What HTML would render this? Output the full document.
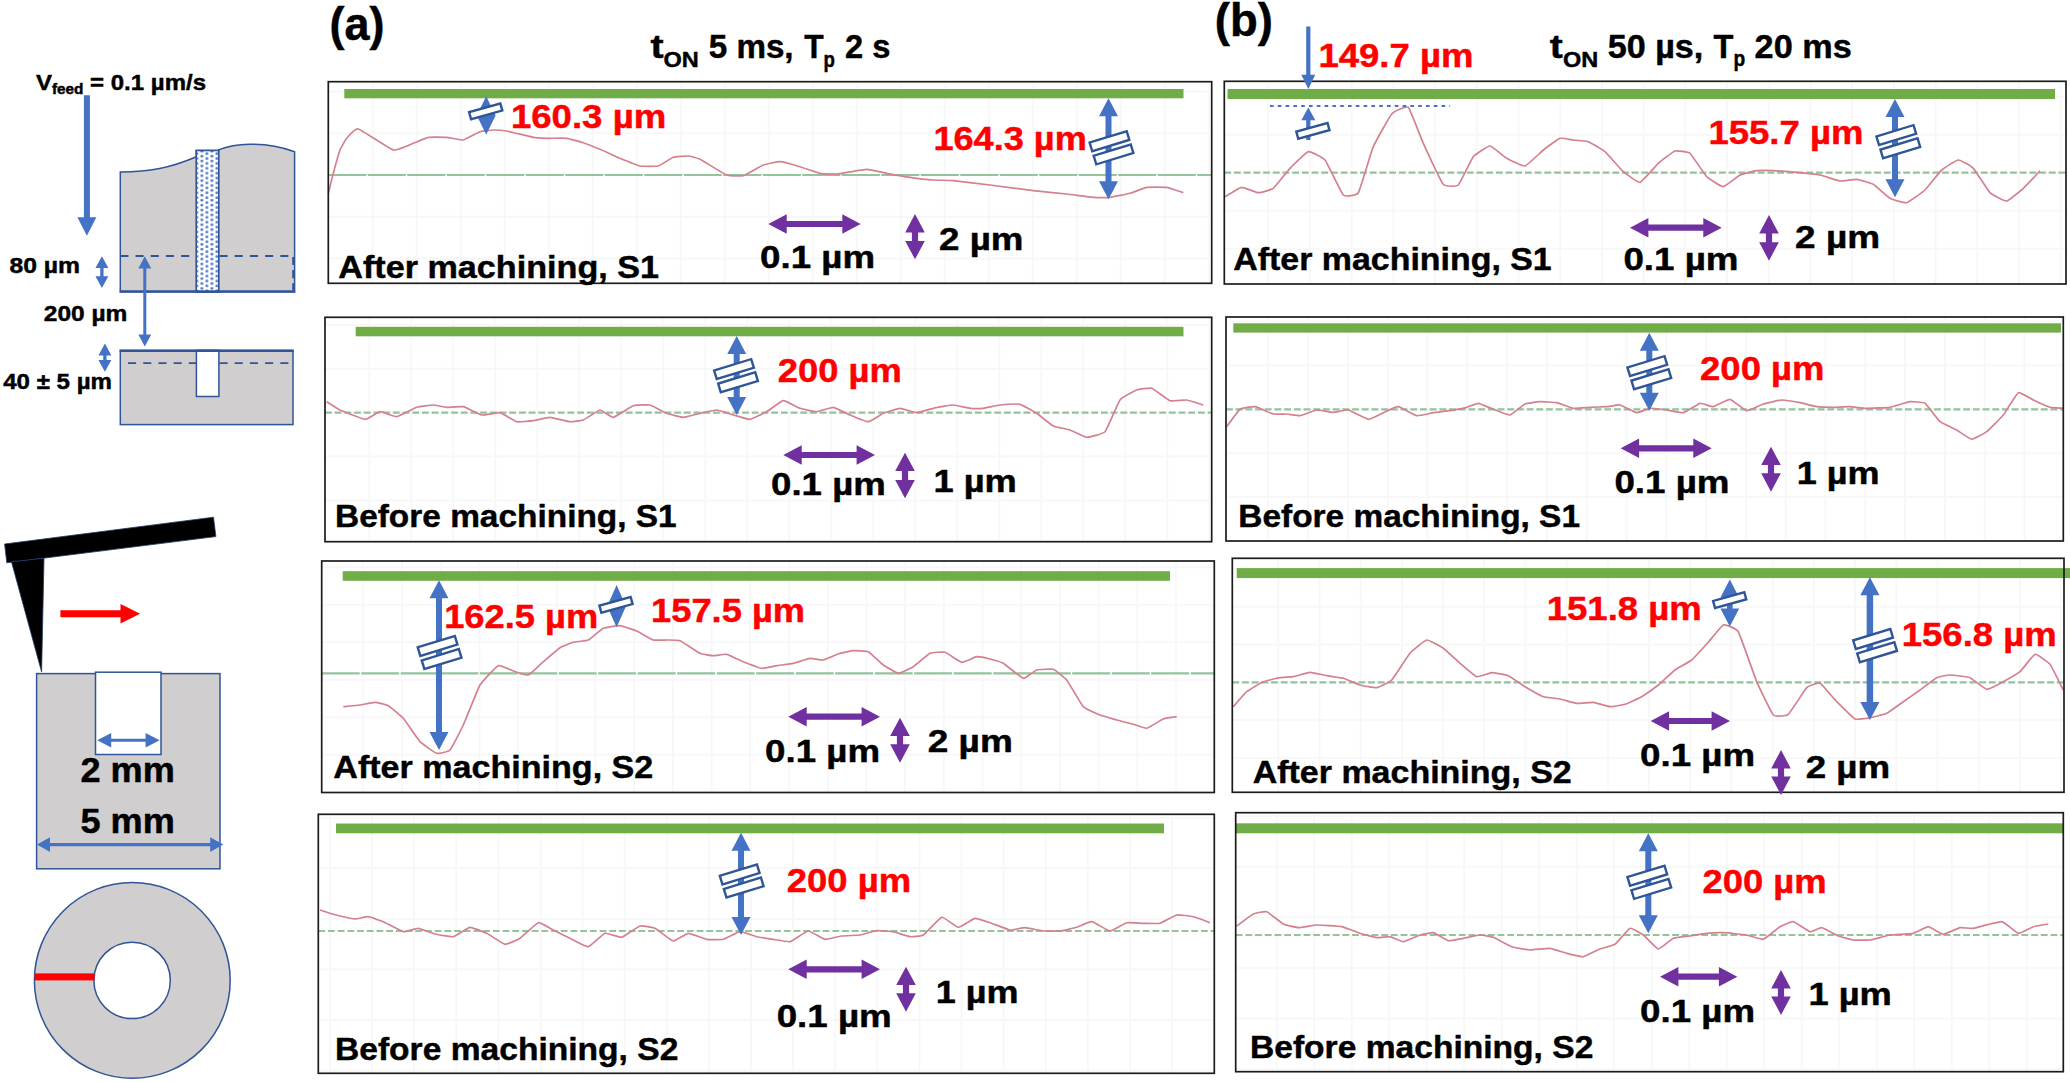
<!DOCTYPE html>
<html lang="en"><head><meta charset="utf-8"><title>Figure</title>
<style>
html,body{margin:0;padding:0;background:#fff;}
svg{display:block;}
svg text{font-family:"Liberation Sans",sans-serif;font-weight:bold;stroke-width:0.45px;stroke-linejoin:round;}
</style></head><body>
<svg width="2070" height="1082" viewBox="0 0 2070 1082">
<defs><pattern id="dots" x="199.4" y="154.88" width="10" height="4.9" patternUnits="userSpaceOnUse"><rect width="10" height="4.9" fill="#fff"/><circle cx="2.5" cy="1.225" r="1.35" fill="#4472c4"/><circle cx="7.5" cy="3.675" r="1.35" fill="#4472c4"/></pattern></defs>
<rect width="2070" height="1082" fill="#fff"/>
<g>
<path d="M372.7 81.7V283.3M416.7 81.7V283.3M460.7 81.7V283.3M504.7 81.7V283.3M548.7 81.7V283.3M592.7 81.7V283.3M636.7 81.7V283.3M680.7 81.7V283.3M724.7 81.7V283.3M768.7 81.7V283.3M812.7 81.7V283.3M856.7 81.7V283.3M900.7 81.7V283.3M944.7 81.7V283.3M988.7 81.7V283.3M1032.7 81.7V283.3M1076.7 81.7V283.3M1120.7 81.7V283.3M1164.7 81.7V283.3M1208.7 81.7V283.3M328.3 91.6H1211.7M328.3 133.3H1211.7M328.3 175H1211.7M328.3 216.7H1211.7M328.3 258.4H1211.7" stroke="#f8f8f8" stroke-width="2" fill="none"/>
<line x1="328.3" y1="175" x2="1211.7" y2="175" stroke="#93c49a" stroke-width="2.2" stroke-dasharray="38 1.5"/>
</g>
<path fill="none" stroke="#d4808f" stroke-width="1.7" stroke-linejoin="round" d="M328.3 193.3C328.6 192.1 332.6 175.9 333.3 173.3C334 170.7 339.2 152.1 340 150C340.8 147.9 345.6 139.6 346.7 138.3C347.8 137 355.5 128.3 358.3 129C361.1 129.7 390 149.1 393.3 150C396.6 150.9 411.2 144.1 413.3 143.3C415.4 142.5 426.3 137.7 428.3 137.3C430.3 136.9 444.6 137.1 446.7 137.3C448.8 137.5 461.3 140.3 463.3 140C465.3 139.7 478.2 132.3 480 131.7C481.8 131.1 491.7 130 493.3 130C494.9 130 504.3 130.6 506.7 131C509.1 131.4 530.9 136.9 533.3 137.3C535.7 137.7 544.7 138.2 546.7 138.3C548.7 138.4 564.5 138 566.7 138.3C568.9 138.6 581.3 142 583.3 142.7C585.3 143.4 597.8 148.4 600 149.3C602.2 150.2 617.6 157.3 620 158.3C622.4 159.3 637.7 165.5 640 166C642.3 166.5 656.3 166.5 658.3 166C660.3 165.5 671.5 157.9 673.3 157.3C675.1 156.7 686.7 155.9 688.3 156C689.9 156.1 697.7 158.2 700 159.3C702.3 160.4 724.1 174 726.7 175C729.3 176 741.1 176.3 743.3 175.7C745.5 175.1 761.1 165.8 763.3 165C765.5 164.2 777.8 161.6 780 161.7C782.2 161.8 797.6 166 800 166.7C802.4 167.4 817.8 172.9 820 173.3C822.2 173.7 833.9 174.2 836.7 174C839.5 173.8 863.7 169.3 866.7 169.3C869.7 169.3 884.1 172.8 886.7 173.3C889.3 173.8 907.2 176.9 910 177.3C912.8 177.7 930.7 179.8 933.3 180C935.9 180.2 949.9 180.4 953.3 180.7C956.7 181 985.2 184.4 990 185C994.8 185.6 1028.7 190.2 1033.3 190.7C1037.9 191.2 1063.1 193.6 1066.7 194C1070.3 194.4 1090.7 197.1 1093.3 197.3C1095.9 197.5 1107.8 197.5 1110 197.3C1112.2 197.1 1127.8 193.9 1130 193.3C1132.2 192.7 1144.5 187.7 1146.7 187.3C1148.9 186.9 1164.5 187 1166.7 187.3C1168.9 187.6 1182.3 192.4 1183.3 192.7"/>
<rect x="344.3" y="89" width="839.2" height="9.3" fill="#70ad47"/>
<rect x="328.3" y="81.7" width="883.4" height="201.6" fill="none" stroke="#1c1c1c" stroke-width="1.7"/>
<g>
<path d="M1268.3 81.3V284M1310 81.3V284M1351.7 81.3V284M1393.4 81.3V284M1435.1 81.3V284M1476.8 81.3V284M1518.5 81.3V284M1560.2 81.3V284M1601.9 81.3V284M1643.6 81.3V284M1685.3 81.3V284M1727 81.3V284M1768.7 81.3V284M1810.4 81.3V284M1852.1 81.3V284M1893.8 81.3V284M1935.5 81.3V284M1977.2 81.3V284M2018.9 81.3V284M2060.6 81.3V284M1224.3 96.7H2066M1224.3 134.7H2066M1224.3 172.7H2066M1224.3 210.7H2066M1224.3 248.7H2066" stroke="#f8f8f8" stroke-width="2" fill="none"/>
<line x1="1224.3" y1="172.7" x2="2066" y2="172.7" stroke="#93c49a" stroke-width="2.2" stroke-dasharray="6.8 2.9"/>
</g>
<path fill="none" stroke="#d4808f" stroke-width="1.7" stroke-linejoin="round" d="M1225 196.7C1226 196.1 1239.7 187.5 1241.7 187.3C1243.7 187.1 1256.4 192.6 1258.3 192.7C1260.2 192.8 1271.4 189.8 1273.3 188.3C1275.2 186.8 1287.9 170.5 1290 168.3C1292.1 166.1 1306.2 152.2 1308.3 151.7C1310.4 151.2 1322.9 157.4 1325 160C1327.1 162.6 1341.3 193 1343.3 195C1345.3 197 1356.5 195.6 1358.3 192.7C1360.1 189.8 1371.3 151.4 1373.3 146.7C1375.3 142 1389.6 116.4 1391.7 114C1393.8 111.6 1406.4 105.5 1408.3 107.3C1410.2 109.1 1421.2 138.7 1423.3 143.3C1425.4 147.9 1441.2 181.8 1443.3 184.3C1445.4 186.8 1456.5 186.7 1458.3 185C1460.1 183.3 1471.4 159 1473.3 156.7C1475.2 154.4 1488 145.9 1490 146C1492 146.1 1504.6 157.1 1506.7 158.3C1508.8 159.5 1522.8 166.5 1525 166C1527.2 165.5 1541.2 151.7 1543.3 150C1545.4 148.3 1558.2 138.9 1560 138.3C1561.8 137.7 1571.6 139.8 1573.3 140C1575 140.2 1586.4 141 1588.3 141.7C1590.2 142.4 1602.9 149.9 1605 151.7C1607.1 153.5 1621.2 169.9 1623.3 171.7C1625.4 173.5 1637.9 182.8 1640 182.3C1642.1 181.8 1656.2 165.2 1658.3 163.3C1660.4 161.4 1673.1 151.6 1675 151C1676.9 150.4 1688.1 151.8 1690 153.3C1691.9 154.8 1704.7 174.7 1706.7 176.7C1708.7 178.7 1721.3 186.8 1723.3 186.7C1725.3 186.6 1738 176 1740 175C1742 174 1754.7 171 1756.7 170.7C1758.7 170.4 1770.7 170.6 1773.3 170.7C1775.9 170.8 1797.2 172.4 1800 172.7C1802.8 173 1817.6 174.5 1820 175C1822.4 175.5 1837.8 180.7 1840 181C1842.2 181.3 1854.7 179.1 1856.7 179.3C1858.7 179.5 1871.3 183.2 1873.3 184.3C1875.3 185.4 1888 197.2 1890 198.3C1892 199.4 1904.6 203.2 1906.7 202.7C1908.8 202.2 1922.9 192 1925 190C1927.1 188 1939.7 171.8 1941.7 170C1943.7 168.2 1956.4 160.1 1958.3 160C1960.2 159.9 1971.4 166.3 1973.3 168.3C1975.2 170.3 1988 190.7 1990 192.7C1992 194.7 2004.7 201.3 2006.7 201C2008.7 200.7 2021.3 190.1 2023.3 188.3C2025.3 186.5 2039 171.8 2040 170.7"/>
<rect x="1227.5" y="89" width="827.5" height="10" fill="#70ad47"/>
<rect x="1224.3" y="81.3" width="841.7" height="202.7" fill="none" stroke="#1c1c1c" stroke-width="1.7"/>
<g>
<path d="M369.3 317.3V541.7M411.3 317.3V541.7M453.3 317.3V541.7M495.3 317.3V541.7M537.3 317.3V541.7M579.3 317.3V541.7M621.3 317.3V541.7M663.3 317.3V541.7M705.3 317.3V541.7M747.3 317.3V541.7M789.3 317.3V541.7M831.3 317.3V541.7M873.3 317.3V541.7M915.3 317.3V541.7M957.3 317.3V541.7M999.3 317.3V541.7M1041.3 317.3V541.7M1083.3 317.3V541.7M1125.3 317.3V541.7M1167.3 317.3V541.7M1209.3 317.3V541.7M325 324.9H1211.7M325 368.8H1211.7M325 412.7H1211.7M325 456.6H1211.7M325 500.5H1211.7" stroke="#f8f8f8" stroke-width="2" fill="none"/>
<line x1="325" y1="412.7" x2="1211.7" y2="412.7" stroke="#93c49a" stroke-width="2.2" stroke-dasharray="6.8 2.9"/>
</g>
<path fill="none" stroke="#d4808f" stroke-width="1.7" stroke-linejoin="round" d="M326.7 401.7C327.5 402.2 337.7 408.9 340 410C342.3 411.1 362.6 419.2 365 419.3C367.4 419.4 378.1 411.9 380 411.7C381.9 411.5 394.5 417 396.7 416.7C398.9 416.4 414.5 408 416.7 407.3C418.9 406.6 431.5 405 433.3 405C435.1 405 444.9 407.2 446.7 407.3C448.5 407.4 461.2 406.2 463.3 406.7C465.4 407.2 479.5 414.6 481.7 415C483.9 415.4 497.9 412.3 500 412.7C502.1 413.1 514.7 421.2 516.7 421.7C518.7 422.2 531.3 421 533.3 420.7C535.3 420.4 547.8 417.2 550 417.3C552.2 417.4 568 421.5 570 421.7C572 421.9 581.5 420.7 583.3 420C585.1 419.3 598.2 410.2 600 410C601.8 409.8 611.3 417.6 613.3 417.3C615.3 417 631.1 406.4 633.3 405.7C635.5 405 648 404.5 650 405C652 405.5 664.7 412.6 666.7 413.3C668.7 414 681.3 417.3 683.3 417.3C685.3 417.3 698 413.7 700 413.3C702 412.9 714.7 409.9 716.7 410C718.7 410.1 731.3 414.4 733.3 415C735.3 415.6 748 419.5 750 419.3C752 419.1 764.7 412.8 766.7 411.7C768.7 410.6 781.3 400.9 783.3 400.7C785.3 400.5 798 407.6 800 408.3C802 409 814.7 411.8 816.7 411.7C818.7 411.6 831.3 407.1 833.3 407.3C835.3 407.5 847.9 414.1 850 415C852.1 415.9 866.3 421.8 868.3 421.7C870.3 421.6 881.4 414.1 883.3 413.3C885.2 412.5 898 408.3 900 408.3C902 408.3 914.7 412.7 916.7 412.7C918.7 412.7 931.1 408.8 933.3 408.3C935.5 407.8 951.1 405 953.3 405C955.5 405 968.2 408.1 970 408.3C971.8 408.5 981.5 408.5 983.3 408.3C985.1 408.1 997.8 405.2 1000 405C1002.2 404.8 1017.8 403.8 1020 404.3C1022.2 404.8 1034.7 412 1036.7 413.3C1038.7 414.6 1051.3 425 1053.3 426C1055.3 427 1068 429.3 1070 430C1072 430.7 1084.6 437.2 1086.7 437.3C1088.8 437.4 1103 433.9 1105 431.7C1107 429.5 1118.1 402.5 1120 400C1121.9 397.5 1134.8 390.7 1136.7 390C1138.6 389.3 1149.7 387.7 1151.7 388.3C1153.7 388.9 1167.9 400 1170 400.7C1172.1 401.4 1184.7 399.7 1186.7 400C1188.7 400.3 1202.3 404.7 1203.3 405"/>
<rect x="355.7" y="326.8" width="827.8" height="9.5" fill="#70ad47"/>
<rect x="325" y="317.3" width="886.7" height="224.4" fill="none" stroke="#1c1c1c" stroke-width="1.7"/>
<g>
<path d="M1268.3 317V541M1308.1 317V541M1347.9 317V541M1387.7 317V541M1427.5 317V541M1467.3 317V541M1507.1 317V541M1546.9 317V541M1586.7 317V541M1626.5 317V541M1666.3 317V541M1706.1 317V541M1745.9 317V541M1785.7 317V541M1825.5 317V541M1865.3 317V541M1905.1 317V541M1944.9 317V541M1984.7 317V541M2024.5 317V541M1226 321.5H2063.3M1226 365.4H2063.3M1226 409.3H2063.3M1226 453.2H2063.3M1226 497.1H2063.3" stroke="#f8f8f8" stroke-width="2" fill="none"/>
<line x1="1226" y1="409.3" x2="2063.3" y2="409.3" stroke="#93c49a" stroke-width="2.2" stroke-dasharray="6.8 2.9"/>
</g>
<path fill="none" stroke="#d4808f" stroke-width="1.7" stroke-linejoin="round" d="M1226.7 426.7C1227.5 425.7 1238.3 410.5 1240 409.3C1241.7 408.1 1253 406.4 1255 406.7C1257 407 1271.4 413.6 1273.3 414C1275.2 414.4 1285.1 413.9 1286.7 414C1288.3 414.1 1298.2 415.9 1300 415.7C1301.8 415.5 1314.7 410.2 1316.7 410C1318.7 409.8 1331.4 412.3 1333.3 412.3C1335.2 412.3 1346.2 409.6 1348.3 410C1350.4 410.4 1366.2 419.1 1368.3 419.3C1370.4 419.5 1381.5 413.5 1383.3 412.7C1385.1 411.9 1396.3 406.5 1398.3 406.7C1400.3 406.9 1414.6 415.3 1416.7 415.7C1418.8 416.1 1431.3 413 1433.3 412.7C1435.3 412.4 1448 411 1450 410.7C1452 410.4 1465 407.7 1466.7 407.3C1468.4 406.9 1476.7 403.2 1478.3 403.3C1479.9 403.4 1491.4 408.6 1493.3 409.3C1495.2 410 1508.1 415.3 1510 415C1511.9 414.7 1523.2 404.8 1525 404C1526.8 403.2 1538.1 401.8 1540 401.7C1541.9 401.6 1554.7 402.3 1556.7 402.7C1558.7 403.1 1571.3 408 1573.3 408.3C1575.3 408.6 1588 407.4 1590 407.3C1592 407.2 1604.9 406.8 1606.7 406.7C1608.5 406.6 1618.2 404.6 1620 405C1621.8 405.4 1634.9 412.5 1636.7 412.7C1638.5 412.9 1648.2 408.5 1650 408.3C1651.8 408.1 1664.7 409.7 1666.7 410C1668.7 410.3 1681.3 413.1 1683.3 412.7C1685.3 412.3 1698.2 403.7 1700 403.3C1701.8 402.9 1711.5 406.9 1713.3 406.7C1715.1 406.5 1728 399.1 1730 399.3C1732 399.5 1744.7 410.4 1746.7 410.7C1748.7 411 1761.2 404.6 1763.3 404C1765.4 403.4 1779.5 400.1 1781.7 400C1783.9 399.9 1797.9 402.3 1800 402.7C1802.1 403.1 1814.7 406.4 1816.7 406.7C1818.7 407 1831.3 407.3 1833.3 407.3C1835.3 407.3 1848 406.6 1850 406.7C1852 406.8 1864.3 408.3 1866.7 408.3C1869.1 408.3 1887.4 407.7 1890 407.3C1892.6 406.9 1907.9 401.9 1910 401.7C1912.1 401.5 1923.2 402.1 1925 403.3C1926.8 404.5 1938.1 420.1 1940 421.7C1941.9 423.3 1954.8 428.9 1956.7 430C1958.6 431.1 1969.9 439.2 1971.7 439.3C1973.5 439.4 1984.8 433.2 1986.7 431.7C1988.6 430.2 2001.4 417.3 2003.3 415C2005.2 412.7 2016.5 393.6 2018.3 392.7C2020.1 391.8 2031.4 399.1 2033.3 400C2035.2 400.9 2048.2 406.8 2050 407.3C2051.8 407.8 2062.5 408.2 2063.3 408.3"/>
<rect x="1233.3" y="323.3" width="827.7" height="9.3" fill="#70ad47"/>
<rect x="1226" y="317" width="837.3" height="224" fill="none" stroke="#1c1c1c" stroke-width="1.7"/>
<g>
<path d="M363.3 561V792.5M402 561V792.5M440.7 561V792.5M479.4 561V792.5M518.1 561V792.5M556.8 561V792.5M595.5 561V792.5M634.2 561V792.5M672.9 561V792.5M711.6 561V792.5M750.3 561V792.5M789 561V792.5M827.7 561V792.5M866.4 561V792.5M905.1 561V792.5M943.8 561V792.5M982.5 561V792.5M1021.2 561V792.5M1059.9 561V792.5M1098.6 561V792.5M1137.3 561V792.5M1176 561V792.5M321.7 567.3H1214.3M321.7 604.8H1214.3M321.7 642.3H1214.3M321.7 679.8H1214.3M321.7 717.3H1214.3M321.7 754.8H1214.3" stroke="#f8f8f8" stroke-width="2" fill="none"/>
<line x1="321.7" y1="673.3" x2="1214.3" y2="673.3" stroke="#93c49a" stroke-width="2.2" stroke-dasharray="38 1.5"/>
</g>
<path fill="none" stroke="#d4808f" stroke-width="1.7" stroke-linejoin="round" d="M343.3 706.7C344.3 706.6 358.1 705.3 360 705C361.9 704.7 373.3 702.3 375 702.3C376.7 702.3 386.6 704.7 388.3 705.7C390 706.7 401.4 716.1 403.3 718.3C405.2 720.5 418 739.6 420 741.7C422 743.8 434.9 752.8 436.7 753.3C438.5 753.8 448.4 751.7 450 750C451.6 748.3 461.5 728.9 463.3 725C465.1 721.1 477.9 688.6 480 685C482.1 681.4 496.3 666.5 498.3 665.7C500.3 664.9 511.5 670.4 513.3 671C515.1 671.6 526.5 675.6 528.3 675C530.1 674.4 541.4 663.3 543.3 661.7C545.2 660.1 558.2 648.9 560 647.7C561.8 646.5 571.6 642.8 573.3 642.3C575 641.8 586.5 640.8 588.3 640C590.1 639.2 601.4 629.2 603.3 628.3C605.2 627.4 618 625.5 620 625.7C622 625.9 634.7 630.1 636.7 631C638.7 631.9 651.5 639.5 653.3 640C655.1 640.5 665.1 640 666.7 640C668.3 640 678 639.9 680 640.7C682 641.5 698 652.4 700 653.3C702 654.2 711.7 655.6 713.3 655.7C714.9 655.8 724.9 653.9 726.7 654.3C728.5 654.7 741.2 660.9 743.3 661.7C745.4 662.5 759.7 668.1 761.7 668.3C763.7 668.5 774.8 666 776.7 665.7C778.6 665.4 791.3 663.7 793.3 663.3C795.3 662.9 808.2 658.5 810 658.3C811.8 658.1 821.5 660.3 823.3 660C825.1 659.7 838.2 653.9 840 653.3C841.8 652.7 851.6 650.8 853.3 650.7C855 650.6 866.5 650.8 868.3 651.7C870.1 652.6 881.5 663.7 883.3 665C885.1 666.3 896.5 673.2 898.3 673.3C900.1 673.4 911.4 667.9 913.3 666.7C915.2 665.5 928.1 654.2 930 653.3C931.9 652.4 943.1 651.8 945 652.3C946.9 652.8 959.8 662 961.7 662.3C963.6 662.6 975 656.9 976.7 656.7C978.4 656.5 988.4 658.6 990 659C991.6 659.4 1001.3 662.1 1003.3 663.3C1005.3 664.5 1021.3 677.9 1023.3 678.3C1025.3 678.7 1034.9 670.5 1036.7 670C1038.5 669.5 1051.5 668.7 1053.3 669.3C1055.1 669.9 1064.9 677.8 1066.7 680C1068.5 682.2 1081.3 704.6 1083.3 706.7C1085.3 708.8 1098 714.2 1100 715C1102 715.8 1114.7 719.4 1116.7 720C1118.7 720.6 1131.5 723.8 1133.3 724.3C1135.1 724.8 1144.9 728.6 1146.7 728.3C1148.5 728 1161.5 719.7 1163.3 719C1165.1 718.3 1175.9 716.8 1176.7 716.7"/>
<rect x="342.7" y="571.2" width="827.3" height="9.6" fill="#70ad47"/>
<rect x="321.7" y="561" width="892.6" height="231.5" fill="none" stroke="#1c1c1c" stroke-width="1.7"/>
<g>
<path d="M1278.3 558.3V792.3M1319.5 558.3V792.3M1360.7 558.3V792.3M1401.9 558.3V792.3M1443.1 558.3V792.3M1484.3 558.3V792.3M1525.5 558.3V792.3M1566.7 558.3V792.3M1607.9 558.3V792.3M1649.1 558.3V792.3M1690.3 558.3V792.3M1731.5 558.3V792.3M1772.7 558.3V792.3M1813.9 558.3V792.3M1855.1 558.3V792.3M1896.3 558.3V792.3M1937.5 558.3V792.3M1978.7 558.3V792.3M2019.9 558.3V792.3M2061.1 558.3V792.3M1232.3 568.9H2064M1232.3 606.7H2064M1232.3 644.5H2064M1232.3 682.3H2064M1232.3 720.1H2064M1232.3 757.9H2064" stroke="#f8f8f8" stroke-width="2" fill="none"/>
<line x1="1232.3" y1="682.3" x2="2064" y2="682.3" stroke="#93c49a" stroke-width="2.2" stroke-dasharray="6.8 2.9"/>
</g>
<path fill="none" stroke="#d4808f" stroke-width="1.7" stroke-linejoin="round" d="M1233.3 706.7C1234.1 705.8 1244.9 693.2 1246.7 691.7C1248.5 690.2 1261.3 682.5 1263.3 681.7C1265.3 680.9 1278.2 678 1280 677.7C1281.8 677.4 1291.5 677 1293.3 676.7C1295.1 676.4 1308 672.4 1310 672.3C1312 672.2 1324.7 675.3 1326.7 675.7C1328.7 676.1 1341.3 677.7 1343.3 678.3C1345.3 678.9 1358 684.4 1360 685C1362 685.6 1374.8 688 1376.7 687.7C1378.6 687.4 1389.7 682.1 1391.7 680C1393.7 677.9 1407.9 655.7 1410 653.3C1412.1 650.9 1424.7 640.3 1426.7 640C1428.7 639.7 1441.3 646.9 1443.3 648.3C1445.3 649.7 1458 661.6 1460 663.3C1462 665 1474.8 676.1 1476.7 676.7C1478.6 677.3 1489.8 672.8 1491.7 672.7C1493.6 672.6 1506.3 674.9 1508.3 675.7C1510.3 676.5 1522.9 685.4 1525 686.7C1527.1 688 1541.2 696 1543.3 696.7C1545.4 697.4 1558 698.6 1560 699C1562 699.4 1574.7 703.1 1576.7 703.3C1578.7 703.5 1591.3 702.1 1593.3 702.3C1595.3 702.5 1608.1 706.6 1610 706.7C1611.9 706.8 1623.1 704.9 1625 704.3C1626.9 703.7 1639.7 697.9 1641.7 696.7C1643.7 695.5 1656.3 686.6 1658.3 685C1660.3 683.4 1673 671.5 1675 670C1677 668.5 1689.7 661.7 1691.7 660C1693.7 658.3 1706.4 644.4 1708.3 642.3C1710.2 640.2 1721.5 625.6 1723.3 625C1725.1 624.4 1736.3 628.3 1738.3 631.7C1740.3 635.1 1754.6 676.7 1756.7 681.7C1758.8 686.7 1771.4 713 1773.3 715C1775.2 717 1786.3 715.9 1788.3 714.3C1790.3 712.7 1804.8 689.6 1806.7 687.7C1808.6 685.8 1818.2 682.5 1820 683.3C1821.8 684.1 1834.6 699.6 1836.7 701.7C1838.8 703.8 1853 718 1855 719C1857 720 1868.1 718 1870 717.7C1871.9 717.4 1884.7 714.3 1886.7 713.3C1888.7 712.3 1901.3 703.1 1903.3 701.7C1905.3 700.3 1918 691.4 1920 690C1922 688.6 1934.9 678.6 1936.7 677.7C1938.5 676.8 1948 675 1950 675C1952 675 1967.8 676.8 1970 677.7C1972.2 678.6 1984.7 689.1 1986.7 689.3C1988.7 689.5 2001.3 682.8 2003.3 681.7C2005.3 680.6 2018.1 673.3 2020 671.7C2021.9 670.1 2033.2 654.7 2035 654.3C2036.8 653.9 2048.3 662.2 2050 664.3C2051.7 666.4 2062.5 688.5 2063.3 690"/>
<rect x="1236.7" y="568.1" width="833.3" height="10" fill="#70ad47"/>
<rect x="1232.3" y="558.3" width="831.7" height="234" fill="none" stroke="#1c1c1c" stroke-width="1.7"/>
<g>
<path d="M330 814.3V1073.3M372.1 814.3V1073.3M414.2 814.3V1073.3M456.3 814.3V1073.3M498.4 814.3V1073.3M540.5 814.3V1073.3M582.6 814.3V1073.3M624.7 814.3V1073.3M666.8 814.3V1073.3M708.9 814.3V1073.3M751 814.3V1073.3M793.1 814.3V1073.3M835.2 814.3V1073.3M877.3 814.3V1073.3M919.4 814.3V1073.3M961.5 814.3V1073.3M1003.6 814.3V1073.3M1045.7 814.3V1073.3M1087.8 814.3V1073.3M1129.9 814.3V1073.3M1172 814.3V1073.3M318.3 817.7H1214.3M318.3 868.3H1214.3M318.3 918.9H1214.3M318.3 969.5H1214.3M318.3 1020.1H1214.3M318.3 1070.7H1214.3" stroke="#f8f8f8" stroke-width="2" fill="none"/>
<line x1="318.3" y1="931" x2="1214.3" y2="931" stroke="#93c49a" stroke-width="2.2" stroke-dasharray="6.8 2.9"/>
</g>
<path fill="none" stroke="#d4808f" stroke-width="1.7" stroke-linejoin="round" d="M320 910C321.2 910.4 337.9 915.5 340 916C342.1 916.5 353.3 919 355 919C356.7 919 366.6 916.5 368.3 916.7C370 916.9 381.2 920.8 383.3 921.7C385.4 922.6 401.2 931.3 403.3 931.7C405.4 932.1 416.4 928.2 418.3 928.3C420.2 928.4 432.9 933.5 435 934C437.1 934.5 451.2 937.1 453.3 936.7C455.4 936.3 468 927.5 470 927.3C472 927.1 484.6 932.3 486.7 933.3C488.8 934.3 503 944 505 944.3C507 944.6 518 939.6 520 938.3C522 937 536.3 923.2 538.3 922.7C540.3 922.2 551.4 929.1 553.3 930C555.2 930.9 567.9 937.3 570 938.3C572.1 939.3 586.2 947 588.3 946.7C590.4 946.4 603 933.9 605 933.3C607 932.7 619.6 937.7 621.7 937.3C623.8 936.9 638 926.5 640 926C642 925.5 653 927.4 655 928.3C657 929.2 671.3 940.7 673.3 941C675.3 941.3 686.3 933.4 688.3 933.3C690.3 933.2 704.6 938.9 706.7 939.3C708.8 939.7 721.3 939.8 723.3 939.3C725.3 938.8 738 931.9 740 931.7C742 931.5 754.7 936.2 756.7 936.7C758.7 937.2 771.3 939 773.3 939.3C775.3 939.6 787.9 942.2 790 941.7C792.1 941.2 806.2 931.1 808.3 931C810.4 930.9 823 939 825 939.3C827 939.6 839.6 936.3 841.7 936C843.8 935.7 857.9 935.3 860 935C862.1 934.7 874.7 930.9 876.7 930.7C878.7 930.5 891.3 931.3 893.3 931.7C895.3 932.1 908.2 936.5 910 936.7C911.8 936.9 921.4 936.2 923.3 935C925.2 933.8 939.6 917.8 941.7 917.3C943.8 916.8 956.3 927.2 958.3 927.3C960.3 927.4 973.1 918.6 975 918.3C976.9 918 987.9 922 990 922.7C992.1 923.4 1007.9 929.7 1010 930C1012.1 930.3 1023 927.6 1025 927.7C1027 927.8 1041.2 930.8 1043.3 931C1045.4 931.2 1058 931.2 1060 931C1062 930.8 1074.8 927.9 1076.7 927.3C1078.6 926.7 1089.7 921.5 1091.7 921.7C1093.7 921.9 1107.9 930.9 1110 931C1112.1 931.1 1124.7 923.2 1126.7 922.7C1128.7 922.2 1141.3 923.3 1143.3 923.3C1145.3 923.3 1158 923.8 1160 923.3C1162 922.8 1174.7 915.4 1176.7 915C1178.7 914.6 1191.3 916.2 1193.3 916.7C1195.3 917.2 1209 922.3 1210 922.7"/>
<rect x="336" y="823.5" width="828" height="9.8" fill="#70ad47"/>
<rect x="318.3" y="814.3" width="896" height="259" fill="none" stroke="#1c1c1c" stroke-width="1.7"/>
<g>
<path d="M1276.7 812.7V1071.7M1314.2 812.7V1071.7M1351.7 812.7V1071.7M1389.2 812.7V1071.7M1426.7 812.7V1071.7M1464.2 812.7V1071.7M1501.7 812.7V1071.7M1539.2 812.7V1071.7M1576.7 812.7V1071.7M1614.2 812.7V1071.7M1651.7 812.7V1071.7M1689.2 812.7V1071.7M1726.7 812.7V1071.7M1764.2 812.7V1071.7M1801.7 812.7V1071.7M1839.2 812.7V1071.7M1876.7 812.7V1071.7M1914.2 812.7V1071.7M1951.7 812.7V1071.7M1989.2 812.7V1071.7M2026.7 812.7V1071.7M1235.7 816.1H2063.3M1235.7 866.7H2063.3M1235.7 917.3H2063.3M1235.7 967.9H2063.3M1235.7 1018.5H2063.3M1235.7 1069.1H2063.3" stroke="#f8f8f8" stroke-width="2" fill="none"/>
<line x1="1235.7" y1="935" x2="2063.3" y2="935" stroke="#93c49a" stroke-width="2.2" stroke-dasharray="6.8 2.9"/>
</g>
<path fill="none" stroke="#d4808f" stroke-width="1.7" stroke-linejoin="round" d="M1236.7 926C1237.7 925.3 1251.5 914.9 1253.3 914C1255.1 913.1 1264.9 911.1 1266.7 911.7C1268.5 912.3 1281.4 923 1283.3 924C1285.2 925 1296.3 927.6 1298.3 927.7C1300.3 927.8 1314.1 925.1 1316.7 925C1319.3 924.9 1339.1 926.2 1341.7 926.7C1344.3 927.2 1357.9 932.6 1360 933.3C1362.1 934 1374.9 937.5 1376.7 937.7C1378.5 937.9 1388.4 936.5 1390 936.7C1391.6 936.9 1401.5 941.8 1403.3 941.7C1405.1 941.6 1418.2 935.5 1420 935C1421.8 934.5 1431.6 932.4 1433.3 932.7C1435 933 1446.5 940.4 1448.3 940.7C1450.1 941 1461.4 938.6 1463.3 938.3C1465.2 938 1478.2 935.1 1480 935C1481.8 934.9 1491.4 936.6 1493.3 937.3C1495.2 938 1509.5 945.9 1511.7 946.7C1513.9 947.5 1527.7 949.9 1530 950C1532.3 950.1 1547.8 948.1 1550 948.3C1552.2 948.5 1564.7 952.8 1566.7 953.3C1568.7 953.8 1581.3 957 1583.3 956.7C1585.3 956.4 1598.1 949.7 1600 949C1601.9 948.3 1613.2 945.5 1615 944.3C1616.8 943.1 1628.3 928.9 1630 928.3C1631.7 927.7 1641.6 933.8 1643.3 935C1645 936.2 1656.5 948.8 1658.3 949C1660.1 949.2 1671.4 939.1 1673.3 938.3C1675.2 937.5 1688 936.3 1690 936C1692 935.7 1704.7 933.5 1706.7 933.3C1708.7 933.1 1720.9 932.6 1723.3 932.7C1725.7 932.8 1744.3 934.6 1746.7 935C1749.1 935.4 1761.3 939.8 1763.3 939.3C1765.3 938.8 1778.2 927.8 1780 926.7C1781.8 925.6 1791.5 921.4 1793.3 921.7C1795.1 922 1808.3 931.3 1810 931.7C1811.7 932.1 1820 927.4 1821.7 927.7C1823.4 928 1836.4 935.3 1838.3 936C1840.2 936.7 1851.4 939.8 1853.3 940C1855.2 940.2 1867.8 940.3 1870 940C1872.2 939.7 1887.4 935.4 1890 935C1892.6 934.6 1911 933.8 1913.3 933.3C1915.6 932.8 1926.5 926.6 1928.3 926.7C1930.1 926.8 1941.4 934.2 1943.3 934.3C1945.2 934.4 1958.2 928.1 1960 927.7C1961.8 927.3 1970.8 928.7 1973.3 928.3C1975.8 927.9 1999 921.4 2001.7 921.7C2004.4 922 2016.4 933 2018.3 933.3C2020.2 933.6 2031.5 927.3 2033.3 926.7C2035.1 926.1 2047.4 924.2 2048.3 924"/>
<rect x="1235.7" y="823.3" width="827.6" height="10" fill="#70ad47"/>
<rect x="1235.7" y="812.7" width="827.6" height="259" fill="none" stroke="#1c1c1c" stroke-width="1.7"/>
<polygon fill="#4472c4" points="1108.5,98.3 1118,116.3 1111.5,116.3 1111.5,181.3 1118,181.3 1108.5,199.3 1099,181.3 1105.5,181.3 1105.5,116.3 1099,116.3"/>
<g transform="translate(1111.5,147.8) rotate(-17)" fill="#fff" stroke="#2f5597" stroke-width="2.4">
<rect x="-19.4" y="-11.4" width="38.8" height="9"/>
<rect x="-19.4" y="2.4" width="38.8" height="9"/>
</g>
<polygon fill="#4472c4" points="486.2,96.3 495.6,115.45 488.2,115.45 488.2,115.45 495.6,115.45 486.2,134.6 476.8,115.45 484.2,115.45 484.2,115.45 476.8,115.45"/>
<g transform="translate(485.7,111.3) rotate(-15.5)" fill="#fff" stroke="#2f5597" stroke-width="2.4">
<rect x="-16.2" y="-3.7" width="32.4" height="7.4"/>
</g>
<text x="510.9" y="128.2" font-size="34" fill="#ff0000" stroke="#ff0000" textLength="155.4" lengthAdjust="spacingAndGlyphs">160.3 µm</text>
<text x="933.4" y="150" font-size="34" fill="#ff0000" stroke="#ff0000" textLength="153.4" lengthAdjust="spacingAndGlyphs">164.3 µm</text>
<polygon fill="#7030a0" points="768.3,224 786.7,214.2 786.7,220.9 842.3,220.9 842.3,214.2 860.7,224 842.3,233.8 842.3,227.1 786.7,227.1 786.7,233.8"/>
<polygon fill="#7030a0" points="915,214 924.8,232.4 918.1,232.4 918.1,240.9 924.8,240.9 915,259.3 905.2,240.9 911.9,240.9 911.9,232.4 905.2,232.4"/>
<text x="760.1" y="268.3" font-size="32" fill="#000" stroke="#000" textLength="115" lengthAdjust="spacingAndGlyphs">0.1 µm</text>
<text x="939.1" y="250" font-size="32" fill="#000" stroke="#000" textLength="84.4" lengthAdjust="spacingAndGlyphs">2 µm</text>
<text x="338.3" y="277.5" font-size="32" fill="#000" stroke="#000" textLength="320.7" lengthAdjust="spacingAndGlyphs">After machining, S1</text>
<polygon fill="#4472c4" points="1306.2,26.6 1310.4,26.6 1310.4,74.7 1315.3,74.7 1308.3,89.1 1301.3,74.7 1306.2,74.7"/>
<line x1="1270" y1="106" x2="1450" y2="106" stroke="#4472c4" stroke-width="2" stroke-dasharray="3.6 4.2"/>
<polygon fill="#4472c4" points="1308.3,107.5 1315.3,120.3 1310.4,120.3 1310.4,140.1 1306.2,140.1 1306.2,120.3 1301.3,120.3"/>
<g transform="translate(1312.9,130.9) rotate(-15.5)" fill="#fff" stroke="#2f5597" stroke-width="2.4">
<rect x="-16.2" y="-3.7" width="32.4" height="7.4"/>
</g>
<text x="1318.4" y="66.7" font-size="34" fill="#ff0000" stroke="#ff0000" textLength="155.1" lengthAdjust="spacingAndGlyphs">149.7 µm</text>
<polygon fill="#4472c4" points="1895,99 1904.5,117 1898,117 1898,179.3 1904.5,179.3 1895,197.3 1885.5,179.3 1892,179.3 1892,117 1885.5,117"/>
<g transform="translate(1898.3,141.7) rotate(-17)" fill="#fff" stroke="#2f5597" stroke-width="2.4">
<rect x="-19.4" y="-11.4" width="38.8" height="9"/>
<rect x="-19.4" y="2.4" width="38.8" height="9"/>
</g>
<text x="1708.4" y="144" font-size="34" fill="#ff0000" stroke="#ff0000" textLength="155.1" lengthAdjust="spacingAndGlyphs">155.7 µm</text>
<polygon fill="#7030a0" points="1630,227.7 1648.4,217.9 1648.4,224.6 1703.3,224.6 1703.3,217.9 1721.7,227.7 1703.3,237.5 1703.3,230.8 1648.4,230.8 1648.4,237.5"/>
<polygon fill="#7030a0" points="1769,215 1778.8,233.4 1772.1,233.4 1772.1,242.3 1778.8,242.3 1769,260.7 1759.2,242.3 1765.9,242.3 1765.9,233.4 1759.2,233.4"/>
<text x="1623.4" y="270" font-size="32" fill="#000" stroke="#000" textLength="115.1" lengthAdjust="spacingAndGlyphs">0.1 µm</text>
<text x="1795.1" y="248.3" font-size="32" fill="#000" stroke="#000" textLength="85" lengthAdjust="spacingAndGlyphs">2 µm</text>
<text x="1233.3" y="270" font-size="32" fill="#000" stroke="#000" textLength="318.4" lengthAdjust="spacingAndGlyphs">After machining, S1</text>
<polygon fill="#4472c4" points="736.7,336 746.2,354 739.7,354 739.7,397 746.2,397 736.7,415 727.2,397 733.7,397 733.7,354 727.2,354"/>
<g transform="translate(736,375.7) rotate(-17)" fill="#fff" stroke="#2f5597" stroke-width="2.4">
<rect x="-19.4" y="-11.4" width="38.8" height="9"/>
<rect x="-19.4" y="2.4" width="38.8" height="9"/>
</g>
<text x="777.7" y="381.7" font-size="34" fill="#ff0000" stroke="#ff0000" textLength="124.1" lengthAdjust="spacingAndGlyphs">200 µm</text>
<polygon fill="#7030a0" points="783.3,455 801.7,445.2 801.7,451.9 856.6,451.9 856.6,445.2 875,455 856.6,464.8 856.6,458.1 801.7,458.1 801.7,464.8"/>
<polygon fill="#7030a0" points="905,452.7 914.8,471.1 908.1,471.1 908.1,479.9 914.8,479.9 905,498.3 895.2,479.9 901.9,479.9 901.9,471.1 895.2,471.1"/>
<text x="771.1" y="495" font-size="32" fill="#000" stroke="#000" textLength="114.7" lengthAdjust="spacingAndGlyphs">0.1 µm</text>
<text x="933.4" y="491.7" font-size="32" fill="#000" stroke="#000" textLength="83.4" lengthAdjust="spacingAndGlyphs">1 µm</text>
<text x="335" y="526.7" font-size="32" fill="#000" stroke="#000" textLength="341.7" lengthAdjust="spacingAndGlyphs">Before machining, S1</text>
<polygon fill="#4472c4" points="1649.3,332.7 1658.8,350.7 1652.3,350.7 1652.3,392.7 1658.8,392.7 1649.3,410.7 1639.8,392.7 1646.3,392.7 1646.3,350.7 1639.8,350.7"/>
<g transform="translate(1649.3,372.7) rotate(-17)" fill="#fff" stroke="#2f5597" stroke-width="2.4">
<rect x="-19.4" y="-11.4" width="38.8" height="9"/>
<rect x="-19.4" y="2.4" width="38.8" height="9"/>
</g>
<text x="1700.1" y="380" font-size="34" fill="#ff0000" stroke="#ff0000" textLength="124.4" lengthAdjust="spacingAndGlyphs">200 µm</text>
<polygon fill="#7030a0" points="1620.7,448.3 1639.1,438.5 1639.1,445.2 1693.3,445.2 1693.3,438.5 1711.7,448.3 1693.3,458.1 1693.3,451.4 1639.1,451.4 1639.1,458.1"/>
<polygon fill="#7030a0" points="1771,446.7 1780.8,465.1 1774.1,465.1 1774.1,473.3 1780.8,473.3 1771,491.7 1761.2,473.3 1767.9,473.3 1767.9,465.1 1761.2,465.1"/>
<text x="1614.4" y="493.3" font-size="32" fill="#000" stroke="#000" textLength="115.1" lengthAdjust="spacingAndGlyphs">0.1 µm</text>
<text x="1796.7" y="484" font-size="32" fill="#000" stroke="#000" textLength="82.8" lengthAdjust="spacingAndGlyphs">1 µm</text>
<text x="1238.3" y="526.7" font-size="32" fill="#000" stroke="#000" textLength="341.7" lengthAdjust="spacingAndGlyphs">Before machining, S1</text>
<polygon fill="#4472c4" points="439,580.2 448.5,598.2 442,598.2 442,732 448.5,732 439,750 429.5,732 436,732 436,598.2 429.5,598.2"/>
<g transform="translate(439.6,652.5) rotate(-17)" fill="#fff" stroke="#2f5597" stroke-width="2.4">
<rect x="-19.4" y="-11.4" width="38.8" height="9"/>
<rect x="-19.4" y="2.4" width="38.8" height="9"/>
</g>
<polygon fill="#4472c4" points="616.6,585.1 626,606.15 618.6,606.15 618.6,606.15 626,606.15 616.6,627.2 607.2,606.15 614.6,606.15 614.6,606.15 607.2,606.15"/>
<g transform="translate(616,604.8) rotate(-15.5)" fill="#fff" stroke="#2f5597" stroke-width="2.4">
<rect x="-16.2" y="-3.7" width="32.4" height="7.4"/>
</g>
<text x="444.2" y="628.4" font-size="34" fill="#ff0000" stroke="#ff0000" textLength="154.1" lengthAdjust="spacingAndGlyphs">162.5 µm</text>
<text x="651.1" y="621.7" font-size="34" fill="#ff0000" stroke="#ff0000" textLength="154" lengthAdjust="spacingAndGlyphs">157.5 µm</text>
<polygon fill="#7030a0" points="788.3,716.7 806.7,706.9 806.7,713.6 861.6,713.6 861.6,706.9 880,716.7 861.6,726.5 861.6,719.8 806.7,719.8 806.7,726.5"/>
<polygon fill="#7030a0" points="900,717.7 909.8,736.1 903.1,736.1 903.1,744.3 909.8,744.3 900,762.7 890.2,744.3 896.9,744.3 896.9,736.1 890.2,736.1"/>
<text x="765.1" y="761.7" font-size="32" fill="#000" stroke="#000" textLength="115" lengthAdjust="spacingAndGlyphs">0.1 µm</text>
<text x="927.7" y="751.7" font-size="32" fill="#000" stroke="#000" textLength="85.1" lengthAdjust="spacingAndGlyphs">2 µm</text>
<text x="333.3" y="778.3" font-size="32" fill="#000" stroke="#000" textLength="320" lengthAdjust="spacingAndGlyphs">After machining, S2</text>
<polygon fill="#4472c4" points="1729.8,579.5 1739.2,597.5 1732.6,597.5 1732.6,608.6 1739.2,608.6 1729.8,626.6 1720.4,608.6 1727,608.6 1727,597.5 1720.4,597.5"/>
<g transform="translate(1729.7,600.2) rotate(-15.5)" fill="#fff" stroke="#2f5597" stroke-width="2.4">
<rect x="-16.2" y="-3.7" width="32.4" height="7.4"/>
</g>
<text x="1546.7" y="620" font-size="34" fill="#ff0000" stroke="#ff0000" textLength="155.1" lengthAdjust="spacingAndGlyphs">151.8 µm</text>
<polygon fill="#4472c4" points="1869.9,577.3 1879.5,595.3 1873.15,595.3 1873.15,702 1879.5,702 1869.9,720 1860.3,702 1866.65,702 1866.65,595.3 1860.3,595.3"/>
<g transform="translate(1875.1,645.6) rotate(-17)" fill="#fff" stroke="#2f5597" stroke-width="2.4">
<rect x="-19.4" y="-11.4" width="38.8" height="9"/>
<rect x="-19.4" y="2.4" width="38.8" height="9"/>
</g>
<text x="1901.7" y="646" font-size="34" fill="#ff0000" stroke="#ff0000" textLength="155.1" lengthAdjust="spacingAndGlyphs">156.8 µm</text>
<polygon fill="#7030a0" points="1650.7,721 1669.1,711.2 1669.1,717.9 1711.6,717.9 1711.6,711.2 1730,721 1711.6,730.8 1711.6,724.1 1669.1,724.1 1669.1,730.8"/>
<polygon fill="#7030a0" points="1781,750 1790.8,768.4 1784.1,768.4 1784.1,776.6 1790.8,776.6 1781,795 1771.2,776.6 1777.9,776.6 1777.9,768.4 1771.2,768.4"/>
<text x="1640.1" y="765.7" font-size="32" fill="#000" stroke="#000" textLength="115" lengthAdjust="spacingAndGlyphs">0.1 µm</text>
<text x="1805.7" y="778.3" font-size="32" fill="#000" stroke="#000" textLength="84.4" lengthAdjust="spacingAndGlyphs">2 µm</text>
<text x="1252.7" y="783.3" font-size="32" fill="#000" stroke="#000" textLength="319" lengthAdjust="spacingAndGlyphs">After machining, S2</text>
<polygon fill="#4472c4" points="741,832.7 750.5,850.7 744,850.7 744,917 750.5,917 741,935 731.5,917 738,917 738,850.7 731.5,850.7"/>
<g transform="translate(741.7,881) rotate(-17)" fill="#fff" stroke="#2f5597" stroke-width="2.4">
<rect x="-19.4" y="-11.4" width="38.8" height="9"/>
<rect x="-19.4" y="2.4" width="38.8" height="9"/>
</g>
<text x="786.7" y="891.7" font-size="34" fill="#ff0000" stroke="#ff0000" textLength="124.4" lengthAdjust="spacingAndGlyphs">200 µm</text>
<polygon fill="#7030a0" points="788.3,969.3 806.7,959.5 806.7,966.2 861.6,966.2 861.6,959.5 880,969.3 861.6,979.1 861.6,972.4 806.7,972.4 806.7,979.1"/>
<polygon fill="#7030a0" points="906,966.7 915.8,985.1 909.1,985.1 909.1,993.3 915.8,993.3 906,1011.7 896.2,993.3 902.9,993.3 902.9,985.1 896.2,985.1"/>
<text x="776.7" y="1026.7" font-size="32" fill="#000" stroke="#000" textLength="115.1" lengthAdjust="spacingAndGlyphs">0.1 µm</text>
<text x="935.7" y="1003.3" font-size="32" fill="#000" stroke="#000" textLength="82.8" lengthAdjust="spacingAndGlyphs">1 µm</text>
<text x="335" y="1060" font-size="32" fill="#000" stroke="#000" textLength="343.3" lengthAdjust="spacingAndGlyphs">Before machining, S2</text>
<polygon fill="#4472c4" points="1648.3,833.3 1657.8,851.3 1651.3,851.3 1651.3,915.3 1657.8,915.3 1648.3,933.3 1638.8,915.3 1645.3,915.3 1645.3,851.3 1638.8,851.3"/>
<g transform="translate(1649.3,882.3) rotate(-17)" fill="#fff" stroke="#2f5597" stroke-width="2.4">
<rect x="-19.4" y="-11.4" width="38.8" height="9"/>
<rect x="-19.4" y="2.4" width="38.8" height="9"/>
</g>
<text x="1702.4" y="893.3" font-size="34" fill="#ff0000" stroke="#ff0000" textLength="124.4" lengthAdjust="spacingAndGlyphs">200 µm</text>
<polygon fill="#7030a0" points="1660,976.7 1678.4,966.9 1678.4,973.6 1718.9,973.6 1718.9,966.9 1737.3,976.7 1718.9,986.5 1718.9,979.8 1678.4,979.8 1678.4,986.5"/>
<polygon fill="#7030a0" points="1781,970 1790.8,988.4 1784.1,988.4 1784.1,996.6 1790.8,996.6 1781,1015 1771.2,996.6 1777.9,996.6 1777.9,988.4 1771.2,988.4"/>
<text x="1640.1" y="1021.7" font-size="32" fill="#000" stroke="#000" textLength="115" lengthAdjust="spacingAndGlyphs">0.1 µm</text>
<text x="1808.4" y="1005" font-size="32" fill="#000" stroke="#000" textLength="83.4" lengthAdjust="spacingAndGlyphs">1 µm</text>
<text x="1250" y="1058.3" font-size="32" fill="#000" stroke="#000" textLength="343.3" lengthAdjust="spacingAndGlyphs">Before machining, S2</text>
<text x="329.6" y="40.2" font-size="47" fill="#000" stroke="#000" textLength="55" lengthAdjust="spacingAndGlyphs">(a)</text>
<text x="1214.8" y="35.9" font-size="47" fill="#000" stroke="#000" textLength="58" lengthAdjust="spacingAndGlyphs">(b)</text>
<text x="650.4" y="58.3" font-size="33" fill="#000" stroke="#000" textLength="13.1" lengthAdjust="spacingAndGlyphs">t</text>
<text x="663.5" y="67.1" font-size="22.5" fill="#000" stroke="#000" textLength="35.3" lengthAdjust="spacingAndGlyphs">ON</text>
<text x="708.7" y="58.3" font-size="33" fill="#000" stroke="#000" textLength="84.9" lengthAdjust="spacingAndGlyphs">5 ms,</text>
<text x="804.3" y="58.3" font-size="33" fill="#000" stroke="#000" textLength="19.4" lengthAdjust="spacingAndGlyphs">T</text>
<text x="823.6" y="66.6" font-size="22.5" fill="#000" stroke="#000" textLength="11.4" lengthAdjust="spacingAndGlyphs">p</text>
<text x="845" y="58.3" font-size="33" fill="#000" stroke="#000" textLength="45.4" lengthAdjust="spacingAndGlyphs">2 s</text>
<text x="1549.7" y="58" font-size="33" fill="#000" stroke="#000" textLength="13" lengthAdjust="spacingAndGlyphs">t</text>
<text x="1563" y="66.6" font-size="22.5" fill="#000" stroke="#000" textLength="35.2" lengthAdjust="spacingAndGlyphs">ON</text>
<text x="1607.8" y="58" font-size="33" fill="#000" stroke="#000" textLength="95.5" lengthAdjust="spacingAndGlyphs">50 µs,</text>
<text x="1713.6" y="58" font-size="33" fill="#000" stroke="#000" textLength="19.9" lengthAdjust="spacingAndGlyphs">T</text>
<text x="1733.4" y="66.4" font-size="22.5" fill="#000" stroke="#000" textLength="11.7" lengthAdjust="spacingAndGlyphs">p</text>
<text x="1754.6" y="58" font-size="33" fill="#000" stroke="#000" textLength="97.1" lengthAdjust="spacingAndGlyphs">20 ms</text>
<text x="36" y="89.7" font-size="22" stroke="#000" textLength="170" lengthAdjust="spacingAndGlyphs">V<tspan font-size="14" dy="4.7">feed</tspan><tspan dy="-4.7"> = 0.1 µm/s</tspan></text>
<polygon fill="#4472c4" points="83.9,95.3 89.9,95.3 89.9,217.3 96.4,217.3 86.9,235.8 77.4,217.3 83.9,217.3"/>
<path d="M120.3 292.1V172C150 172 170 168 196.4 156.8V150.4H219V149.6C232 144.6 262 139.6 294.6 151.7V292.1Z" fill="#d0cece" stroke="#2f5597" stroke-width="1.5"/>
<rect x="196.2" y="150.5" width="22.6" height="141.6" fill="url(#dots)" stroke="#2f5597" stroke-width="1.6"/>
<path d="M120.3 256H196M219.5 256H292" fill="none" stroke="#2f5597" stroke-width="1.8" stroke-dasharray="8.1 7.1"/>
<path d="M293.3 257V290" fill="none" stroke="#2f5597" stroke-width="2.2" stroke-dasharray="8.1 5"/>
<path d="M119.7 291.4H295.2" fill="none" stroke="#2f5597" stroke-width="2.4"/>
<text x="9.5" y="272.7" font-size="22" fill="#000" stroke="#000" textLength="70.6" lengthAdjust="spacingAndGlyphs">80 µm</text>
<polygon fill="#4472c4" points="101.9,256.3 108.35,268.1 103.55,268.1 103.55,276.3 108.35,276.3 101.9,288.1 95.45,276.3 100.25,276.3 100.25,268.1 95.45,268.1"/>
<text x="43.8" y="320.8" font-size="22" fill="#000" stroke="#000" textLength="83.6" lengthAdjust="spacingAndGlyphs">200 µm</text>
<polygon fill="#4472c4" points="144.8,256.3 151.25,268.4 146.3,268.4 146.3,334.4 151.25,334.4 144.8,346.5 138.35,334.4 143.3,334.4 143.3,268.4 138.35,268.4"/>
<polygon fill="#4472c4" points="104.9,343.6 111.35,355.4 106.55,355.4 106.55,359.9 111.35,359.9 104.9,371.7 98.45,359.9 103.25,359.9 103.25,355.4 98.45,355.4"/>
<text x="3.2" y="389.1" font-size="22" fill="#000" stroke="#000" textLength="108.8" lengthAdjust="spacingAndGlyphs">40 ± 5 µm</text>
<rect x="120.3" y="350.3" width="172.7" height="74.3" fill="#d0cece" stroke="#2f5597" stroke-width="1.5"/>
<rect x="196.4" y="350.3" width="22.5" height="46.2" fill="#fff" stroke="#2f5597" stroke-width="1.5"/>
<path d="M119.7 350.9H293.6" fill="none" stroke="#2f5597" stroke-width="2.4"/>
<path d="M128 363.2H196M219.5 363.2H291" fill="none" stroke="#2f5597" stroke-width="1.8" stroke-dasharray="8.1 7.1"/>
<polygon points="4.6,544 213.5,517.2 215.9,536.6 6.8,562.8" fill="#000" stroke="#1f3864" stroke-width="0.8"/>
<polygon points="11.5,561.9 44,558.2 41.6,671.9" fill="#000" stroke="#1f3864" stroke-width="0.8"/>
<polygon fill="#ff0000" points="60.4,617.2 60.4,610.2 120.5,610.2 120.5,603.9 140.1,613.7 120.5,623.5 120.5,617.2"/>
<rect x="36.6" y="673.6" width="183.4" height="195.2" fill="#d0cece" stroke="#2f5597" stroke-width="1.5"/>
<rect x="95.5" y="672.2" width="65.5" height="82.3" fill="#fff" stroke="#2f5597" stroke-width="1.5"/>
<polygon fill="#4472c4" points="97.2,740.3 111.2,733 111.2,738.8 145.6,738.8 145.6,733 159.6,740.3 145.6,747.6 145.6,741.8 111.2,741.8 111.2,747.6"/>
<text x="80.4" y="782" font-size="35" fill="#000" stroke="#000" textLength="94.4" lengthAdjust="spacingAndGlyphs">2 mm</text>
<text x="80.4" y="832.8" font-size="35" fill="#000" stroke="#000" textLength="94.4" lengthAdjust="spacingAndGlyphs">5 mm</text>
<polygon fill="#4472c4" points="37,844.6 50,837.2 50,842.95 210.2,842.95 210.2,837.2 223.2,844.6 210.2,852 210.2,846.25 50,846.25 50,852"/>
<circle cx="132.3" cy="980.4" r="97.9" fill="#d0cece" stroke="#2f5597" stroke-width="1.5"/>
<circle cx="132.1" cy="980.4" r="38.2" fill="#fff" stroke="#2f5597" stroke-width="1.5"/>
<rect x="34.6" y="973.4" width="59.9" height="7" fill="#ff0000"/>
</svg>
</body></html>
